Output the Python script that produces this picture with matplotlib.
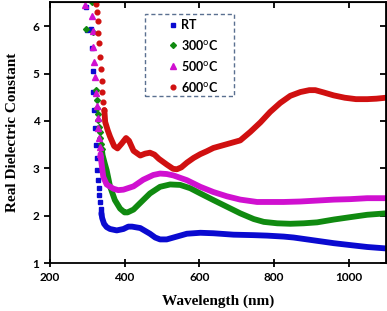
import numpy as np
import matplotlib
matplotlib.use("Agg")
import matplotlib.pyplot as plt
from matplotlib.lines import Line2D
from matplotlib.patches import Rectangle

# steep part (sparse markers) and smooth part (dense band) of each curve
rt_wl_s = [296, 299, 311, 313, 315, 316.5, 318.5, 321, 323, 325, 327, 329, 331, 332.5, 334, 336, 338]
rt_v_s = [6.40, 5.92, 5.95, 5.53, 5.06, 4.62, 4.23, 3.85, 3.49, 3.21, 2.96, 2.75, 2.58, 2.43, 2.29, 2.15, 2.05]
rt_wl = [338, 340, 345, 352, 361, 379, 397, 410, 420, 442, 468, 482, 495, 513, 540, 567, 603, 638,
         692, 746, 782, 826, 853, 889, 925, 961, 1005, 1050, 1100]
rt_v = [2.05, 1.95, 1.83, 1.76, 1.72, 1.69, 1.72, 1.77, 1.77, 1.74, 1.62, 1.54, 1.50, 1.50, 1.56, 1.62,
        1.64, 1.63, 1.60, 1.59, 1.58, 1.56, 1.54, 1.50, 1.46, 1.42, 1.38, 1.34, 1.31]

g_wl_s = [297, 312, 316, 323.5, 325, 327, 328.5, 330, 331.5, 333, 335, 337, 339]
g_v_s = [5.93, 6.50, 5.88, 4.66, 4.44, 4.28, 4.14, 4.02, 3.88, 3.76, 3.64, 3.52, 3.40]
g_wl = [339, 341, 347, 352, 361, 374, 388, 400, 408, 424, 442, 468, 495, 522, 549, 576, 603, 638, 674,
        710, 746, 773, 809, 844, 880, 916, 961, 1005, 1050, 1100]
g_v = [3.40, 3.28, 3.10, 2.96, 2.62, 2.33, 2.15, 2.07, 2.07, 2.13, 2.27, 2.47, 2.61, 2.66, 2.65, 2.58,
       2.47, 2.33, 2.19, 2.05, 1.93, 1.87, 1.84, 1.83, 1.84, 1.86, 1.92, 1.97, 2.02, 2.05]

m_wl_s = [295, 312, 314.5, 316.5, 318.5, 321, 323.5, 325.5, 327.5, 329.5, 331.5, 333.5, 335.5]
m_v_s = [6.44, 6.21, 5.90, 5.56, 5.25, 4.93, 4.58, 4.31, 4.07, 3.85, 3.65, 3.46, 3.30]
m_wl = [335.5, 338, 343, 352, 370, 383, 397, 424, 450, 477, 495, 513, 531, 567, 603, 638, 674, 710,
        755, 782, 826, 871, 916, 961, 1005, 1050, 1100]
m_v = [3.30, 3.12, 2.82, 2.66, 2.57, 2.54, 2.55, 2.62, 2.76, 2.86, 2.89, 2.88, 2.85, 2.75, 2.61, 2.50,
       2.41, 2.34, 2.29, 2.29, 2.29, 2.30, 2.32, 2.34, 2.35, 2.37, 2.37]

r_wl_s = [323.5, 325.4, 328, 329.7, 332.3, 334.2, 336.1, 338.8, 340.4, 343.1, 345.8]
r_v_s = [6.46, 6.30, 6.11, 5.86, 5.64, 5.35, 5.09, 4.84, 4.61, 4.40, 4.23]
r_wl = [345.8, 348, 355, 361, 372, 381, 392, 404, 412, 424, 442, 455, 468, 480, 492, 513, 530, 540, 552,
        567, 585, 603, 620, 638, 674, 710, 737, 764, 790, 817, 844, 871, 895, 911, 934, 960, 990,
        1020, 1050, 1075, 1100]
r_v = [4.23, 3.98, 3.80, 3.67, 3.47, 3.42, 3.52, 3.64, 3.58, 3.37, 3.27, 3.31, 3.33, 3.29, 3.20, 3.08,
       2.99, 2.98, 3.02, 3.12, 3.22, 3.30, 3.36, 3.43, 3.51, 3.59, 3.77, 3.97, 4.19, 4.38, 4.53, 4.61,
       4.65, 4.65, 4.60, 4.54, 4.49, 4.46, 4.46, 4.47, 4.49]

labels = ["RT", "300$^{\\rm o}$C", "500$^{\\rm o}$C", "600$^{\\rm o}$C"]
colors = ["#0a0ad0", "#108a10", "#d010d0", "#d01010"]
markers = ["s", "D", "^", "o"]
msizes = [3.2, 3.0, 4.2, 3.4]

fig = plt.figure(figsize=(3.87, 3.11), dpi=100)
ax = fig.add_axes([0.129, 0.154, 0.868, 0.838])

series = [(rt_wl_s, rt_v_s, rt_wl, rt_v), (g_wl_s, g_v_s, g_wl, g_v),
          (m_wl_s, m_v_s, m_wl, m_v), (r_wl_s, r_v_s, r_wl, r_v)]
for (ws, vs, wd, vd), c, mk, ms in zip(series, colors, markers, msizes):
    ax.plot(ws, vs, ls="none", marker=mk, ms=ms, color=c, mec=c)
    ax.plot(wd, vd, color=c, lw=4.2, solid_capstyle="round", solid_joinstyle="round")

ax.set_xlim(200, 1100)
ax.set_ylim(1, 6.5)
ax.set_xticks([200, 400, 600, 800, 1000])
ax.set_yticks([1, 2, 3, 4, 5, 6])
for s in ax.spines.values():
    s.set_linewidth(1.3)
    s.set_color("black")
ax.tick_params(axis="x", direction="inout", length=6, width=1.3)
ax.tick_params(axis="y", direction="out", length=4, width=1.3)
ax.tick_params(which="both", labelsize=8.5)
for lab in ax.get_xticklabels() + ax.get_yticklabels():
    lab.set_fontfamily("Lato")
    lab.set_fontweight("bold")
# inward ticks on top and right
sec = ax.secondary_xaxis("top")
sec.set_xticks([200, 400, 600, 800, 1000])
sec.tick_params(direction="in", length=4, width=1.3, labeltop=False)
sec2 = ax.secondary_yaxis("right")
sec2.set_yticks([1, 2, 3, 4, 5, 6])
sec2.tick_params(direction="in", length=4, width=1.3, labelright=False)

ax.set_xlabel("Wavelength (nm)", fontfamily="Liberation Serif", fontweight="bold", fontsize=11, labelpad=8)
ax.set_ylabel("Real Dielectric Constant", fontfamily="Liberation Serif", fontweight="bold", fontsize=11, labelpad=10)

# dashed legend box
ax.add_patch(Rectangle((0.283, 0.641), 0.265, 0.315, transform=ax.transAxes, fill=True,
                       facecolor="white", edgecolor="#5a7090", lw=1.0, ls=(0, (3, 2)), zorder=4))
handles = [Line2D([], [], ls="none", marker=mk, ms=ms, color=c, mec=c)
           for c, mk, ms in zip(colors, markers, msizes)]
leg = ax.legend(handles, labels, loc="upper left", bbox_to_anchor=(0.348, 0.937),
                prop={"family": "Lato", "weight": "bold", "size": 9}, handlelength=1.0,
                handletextpad=0.15, labelspacing=0.55, borderpad=0, borderaxespad=0,
                frameon=False)
leg.set_zorder(5)

fig.savefig("out.png", dpi=100)
